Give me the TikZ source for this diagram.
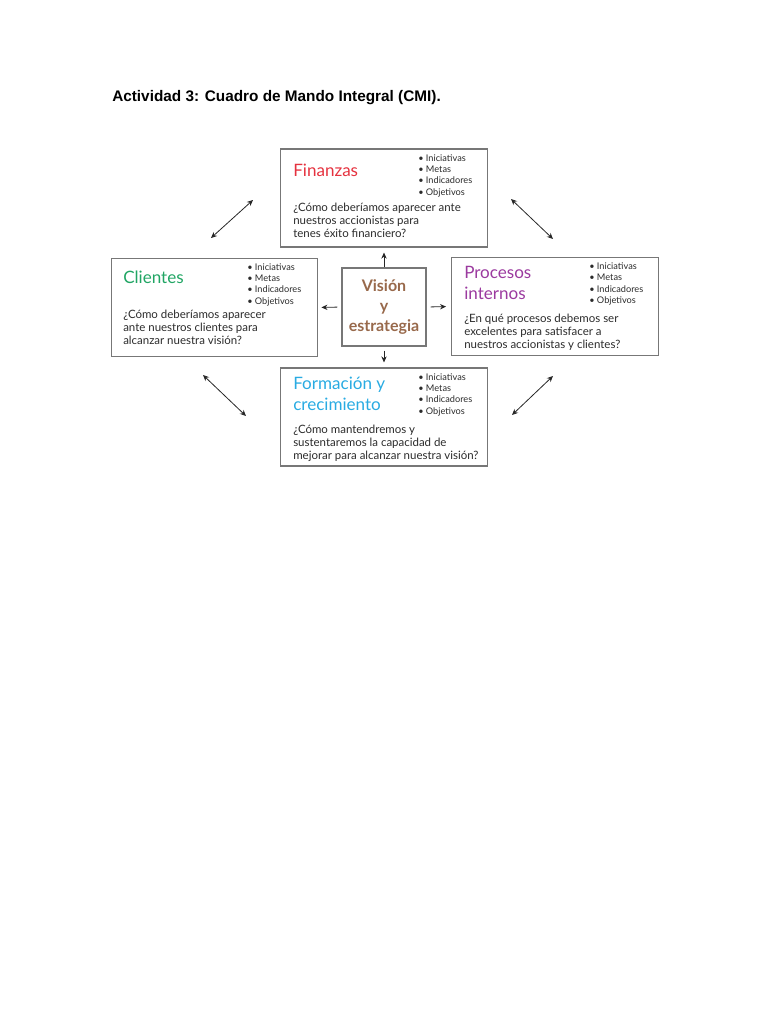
\documentclass[tikz,border=0pt]{standalone}
\usepackage{fontspec}
\setmainfont{Lato}
\newfontfamily\arialfont{Liberation Sans}
\usepackage{xcolor}
\usetikzlibrary{positioning,calc,arrows.meta}
\definecolor{finred}{HTML}{E5323F}
\definecolor{cligreen}{HTML}{21A564}
\definecolor{propurple}{HTML}{9B3A9F}
\definecolor{forblue}{HTML}{29ABE2}
\definecolor{visbrown}{HTML}{98694B}
\definecolor{boxgray}{HTML}{777777}
\definecolor{bodygray}{HTML}{2B2B2B}

\begin{document}
\begin{tikzpicture}[x=0.75pt,y=-0.75pt,
    card/.style={draw=boxgray, line width=0.9pt, inner sep=0, minimum width=155pt, minimum height=73.5pt},
    heading/.style={anchor=west, align=left, inner sep=0, font=\fontsize{12.8}{15.75}\selectfont},
    items/.style={anchor=west, align=left, inner sep=0, text=bodygray, font=\fontsize{6.9}{8.5}\selectfont},
    question/.style={anchor=west, align=left, inner sep=0, text=bodygray, font=\fontsize{8.6}{9.75}\selectfont},
    link/.style={{Stealth[length=4.5pt,width=4pt]}-{Stealth[length=4.5pt,width=4pt]}, draw=black!85, line width=0.6pt},
    push/.style={-{Stealth[length=4.5pt,width=4pt]}, draw=black!85, line width=0.6pt}]
    \useasboundingbox (0,0) rectangle (768,1024);

    \node[anchor=base west, inner sep=0, font=\arialfont\bfseries\fontsize{11.5}{13}\selectfont] (title) at (112,101) {Actividad 3: Cuadro de Mando Integral (CMI).};

    \node[card] (fin) at (384,198) {};
    \node[card] (cli) at (214.5,307.5) {};
    \node[card] (pro) at (555,306.5) {};
    \node[card] (for) at (384,417) {};
    \node[draw=boxgray, line width=0.9pt, inner sep=0, minimum width=63pt, minimum height=58.5pt,
          align=center, text=visbrown, font=\bfseries\fontsize{12}{15}\selectfont] (vis) at (384,307) {Visión\\y\\estrategia};

    \node[heading, text=finred] (finhead) at (293,170) {Finanzas};
    \node[items] (finitems) at (418,175.5) {\textbullet\ Iniciativas\\\textbullet\ Metas\\\textbullet\ Indicadores\\\textbullet\ Objetivos};
    \node[question] (finq) at (293,220.5) {¿Cómo deberíamos aparecer ante\\nuestros accionistas para\\tenes éxito financiero?};

    \node[heading, text=cligreen] (clihead) at (123,277) {Clientes};
    \node[items] (cliitems) at (247,284.5) {\textbullet\ Iniciativas\\\textbullet\ Metas\\\textbullet\ Indicadores\\\textbullet\ Objetivos};
    \node[question] (cliq) at (123,327.5) {¿Cómo deberíamos aparecer\\ante nuestros clientes para\\alcanzar nuestra visión?};

    \node[heading, text=propurple] (prohead) at (464,282.5) {Procesos\\internos};
    \node[items] (proitems) at (589,284) {\textbullet\ Iniciativas\\\textbullet\ Metas\\\textbullet\ Indicadores\\\textbullet\ Objetivos};
    \node[question] (proq) at (464,332) {¿En qué procesos debemos ser\\excelentes para satisfacer a\\nuestros accionistas y clientes?};

    \node[heading, text=forblue] (forhead) at (293,393.5) {Formación y\\crecimiento};
    \node[items] (foritems) at (418,394.5) {\textbullet\ Iniciativas\\\textbullet\ Metas\\\textbullet\ Indicadores\\\textbullet\ Objetivos};
    \node[question] (forq) at (293,443) {¿Cómo mantendremos y\\sustentaremos la capacidad de\\mejorar para alcanzar nuestra visión?};

    \draw[push, shorten >=3.75pt] (vis.north) -- (fin.south);
    \draw[push, shorten <=3pt, shorten >=3.75pt] (vis.south) -- (for.north);
    \draw[push, shorten <=3pt, shorten >=2.25pt] (vis.west) -- (cli.east);
    \draw[push, shorten <=3pt, shorten >=3.75pt] (vis.east) -- (pro.west);

    \coordinate (tla) at (211,238);
    \coordinate (tlb) at (253,200);
    \coordinate (tra) at (511,199);
    \coordinate (trb) at (553,239);
    \coordinate (bla) at (203,375);
    \coordinate (blb) at (246,416);
    \coordinate (bra) at (553,376);
    \coordinate (brb) at (512,415);
    \draw[link] (tla) -- (tlb);
    \draw[link] (tra) -- (trb);
    \draw[link] (bla) -- (blb);
    \draw[link] (bra) -- (brb);
\end{tikzpicture}
\end{document}
